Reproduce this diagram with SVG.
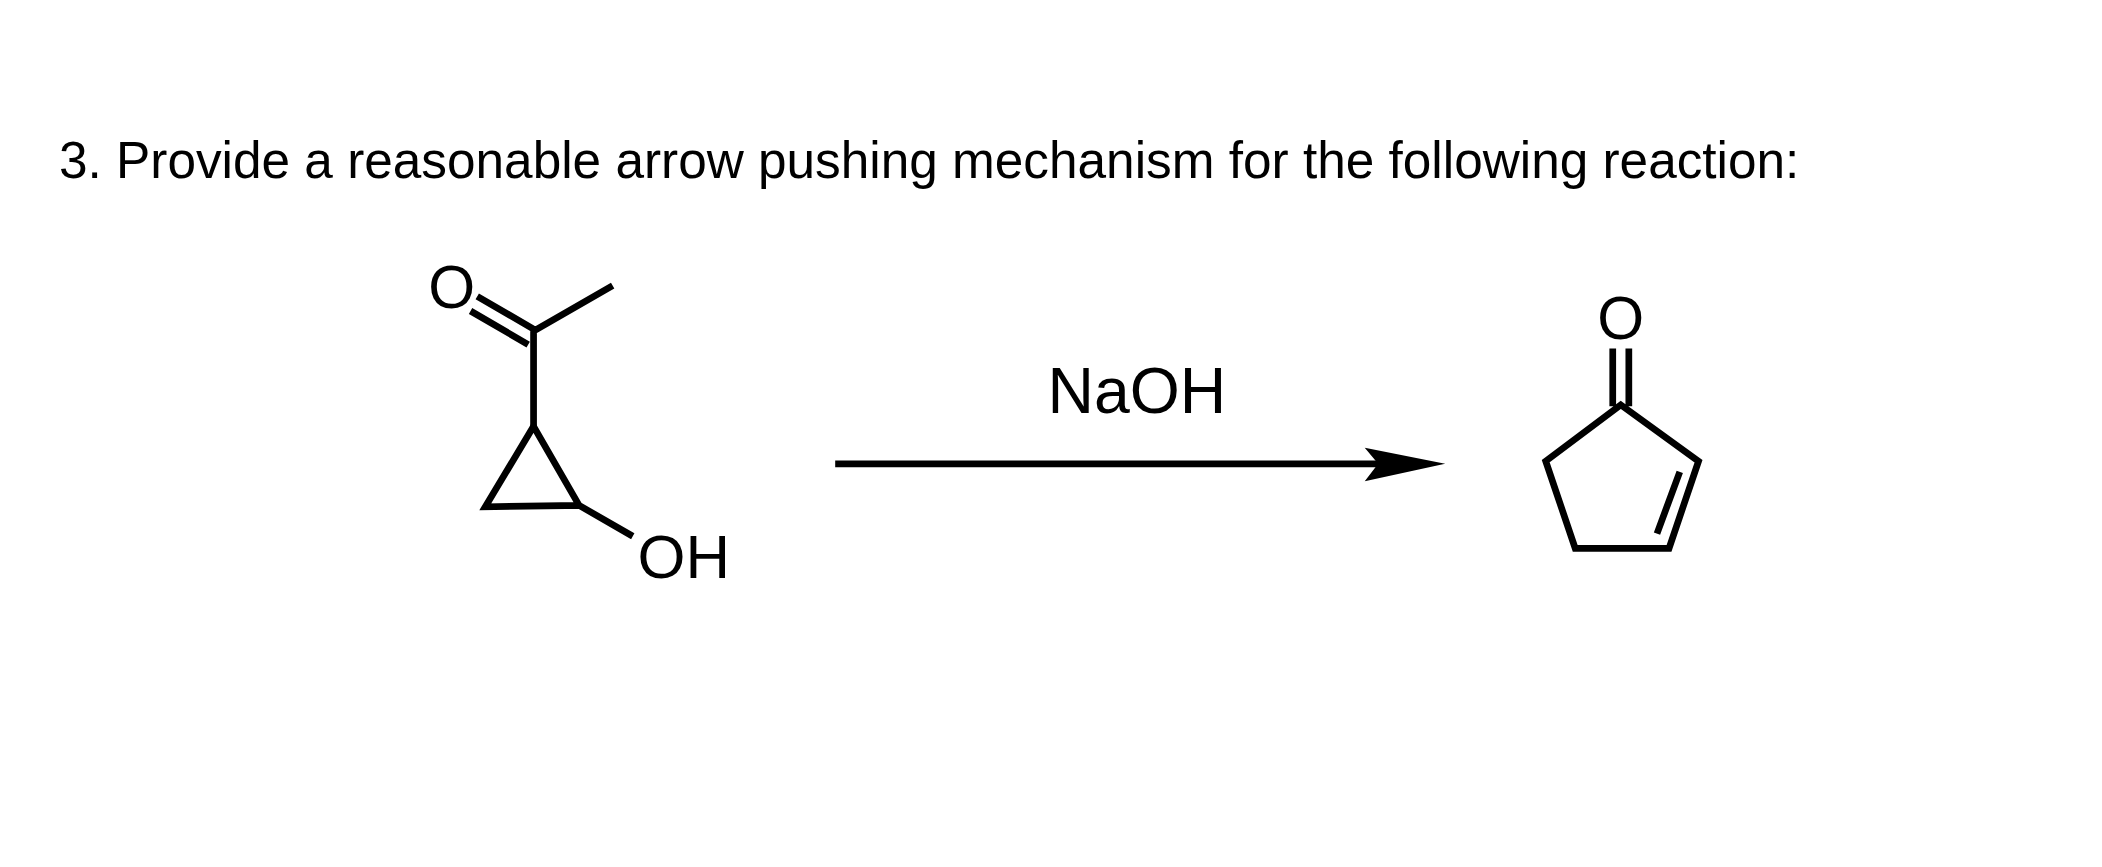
<svg xmlns="http://www.w3.org/2000/svg" width="2102" height="867" viewBox="0 0 2102 867">
<style>
.b{stroke:#000;stroke-width:5;fill:none;stroke-linecap:butt;stroke-linejoin:miter}
.t{font-family:"Liberation Sans",Arial,sans-serif;fill:#000}
</style>
<rect width="2102" height="867" fill="#fff"/>
<g transform="scale(1.3406)">
<text class="t" x="44" y="133" font-size="38.3">3. Provide a reasonable arrow pushing mechanism for the following reaction:</text>
<g id="reactant">
<text class="t" x="337" y="230" font-size="45" text-anchor="middle">O</text>
<path class="b" d="M356,221 L399,246 M351,232 L394,257 M398,247 L457,213 M398,247 L398,318"/>
<path class="b" d="M398,318 L362,378 L432,377 Z M432,377 L472,400"/>
<text class="t" x="510" y="431" font-size="46" text-anchor="middle">OH</text>
</g>
<g id="connectors">
<line class="b" x1="623" y1="346" x2="1030" y2="346"/>
<path d="M1018,334 L1078,346 L1018,359 L1028,346 Z" fill="#000"/>
<text class="t" x="848" y="308" font-size="48" text-anchor="middle">NaOH</text>
</g>
<g id="product">
<text class="t" x="1209" y="253" font-size="45" text-anchor="middle">O</text>
<path class="b" d="M1203,260 L1203,303 M1215,260 L1215,303 M1209,302 L1267,344 L1245,409 L1175,409 L1153,344 Z M1253,352 L1236,398"/>
</g>
</g>
</svg>
